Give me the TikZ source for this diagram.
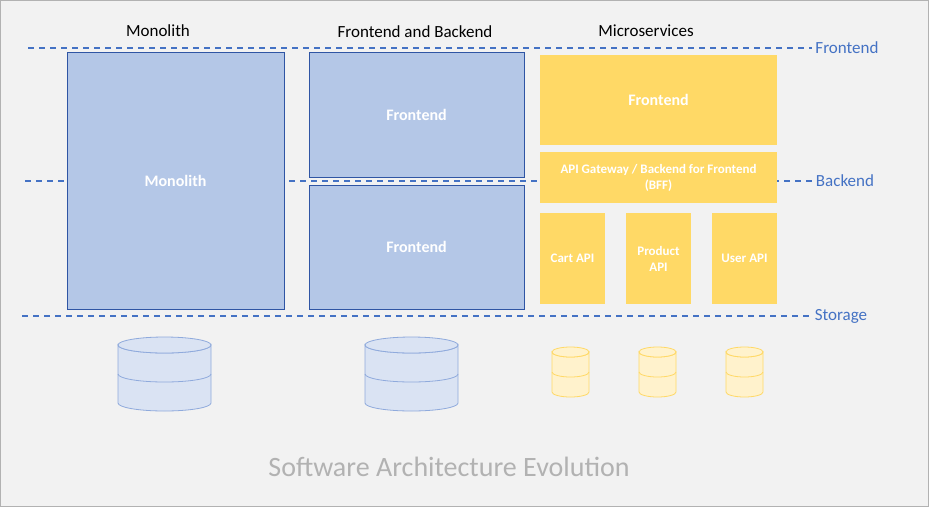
\documentclass[tikz,border=0pt]{standalone}
\usepackage{fontspec}
\setmainfont{Carlito}
\usetikzlibrary{positioning}
\definecolor{pagegray}{HTML}{F2F2F2}
\definecolor{layerblue}{HTML}{4472C4}
\definecolor{boxblue}{HTML}{B4C7E7}
\definecolor{edgeblue}{HTML}{2F55A4}
\definecolor{boxgold}{HTML}{FFD966}
\definecolor{dbblue}{HTML}{DAE3F3}
\definecolor{dbedge}{HTML}{8FAADC}
\definecolor{dbgold}{HTML}{FFF2CC}
\definecolor{dbgoldedge}{HTML}{FFD966}
\tikzset{
  layer/.style={layerblue, line width=1.5pt, dash pattern=on 6pt off 5pt},
  layername/.style={text=layerblue, font=\fontsize{17}{20}\selectfont},
  heading/.style={font=\fontsize{17}{20}\selectfont},
  bluebox/.style={draw=edgeblue, fill=boxblue, text=white, font=\fontsize{16}{19}\selectfont\bfseries},
  goldbox/.style={fill=boxgold, text=white, align=center},
}
% storage drum: left x, top y, width, height, half height of the rim, style
\newcommand{\drum}[6]{%
  \draw[#6] (#1,#2) -- (#1,#2+#4) arc[start angle=180,end angle=360,x radius=#3/2,y radius=-#5] -- (#1+#3,#2)
    arc[start angle=0,end angle=-180,x radius=#3/2,y radius=-#5] -- cycle;
  \draw[#6] (#1,#2) arc[start angle=180,end angle=360,x radius=#3/2,y radius=#5]
    arc[start angle=0,end angle=180,x radius=#3/2,y radius=#5];
  \draw[#6, fill=none] (#1,#2+#4/2) arc[start angle=180,end angle=360,x radius=#3/2,y radius=-#5];
}
\begin{document}
\begin{tikzpicture}[x=1pt, y=-1pt]
  % page
  \fill[pagegray] (0,0) rectangle (929,507);
  \draw[gray!60, line width=0.8pt] (0.5,0.5) rectangle (928.5,506.5);
  \useasboundingbox (0,0) rectangle (929,507);

  % headings
  \node[heading] (hmono) at (158,31) {Monolith};
  \node[heading] (hfb) at (415,32) {Frontend and Backend};
  \node[heading] (hms) at (646,31) {Microservices};

  % layers
  \node[layername] (lfe) at (847,48) {Frontend};
  \node[layername] (lbe) at (845,181) {Backend};
  \node[layername] (lst) at (841,316) {Storage};
  \coordinate (fe0) at (28,48);
  \coordinate (be0) at (25,181);
  \coordinate (st0) at (22,316);
  \draw[layer] (fe0) -- (lfe.west);
  \draw[layer] (be0) -- (lbe.west);
  \draw[layer] (st0) -- (lst.west |- st0);

  % monolith
  \node[bluebox, minimum width=217pt, minimum height=257pt] (mono) at (175.5,180.5) {Monolith};
  % frontend and backend
  \node[bluebox, minimum width=215pt, minimum height=125pt] (fb1) at (416.5,114.5) {Frontend};
  \node[bluebox, minimum width=215pt, minimum height=124pt] (fb2) at (416.5,247) {Frontend};
  % microservices
  \node[goldbox, minimum width=237pt, minimum height=90pt, font=\fontsize{16}{19}\selectfont\bfseries] (msfe) at (658.5,100) {Frontend};
  \node[goldbox, minimum width=237pt, minimum height=51pt, font=\fontsize{13}{16}\selectfont\bfseries] (gw) at (658.5,177.5) {API Gateway / Backend for Frontend\\(BFF)};
  \node[goldbox, minimum width=65pt, minimum height=91pt, font=\fontsize{13}{16}\selectfont\bfseries] (cart) at (572.5,258.5) {Cart API};
  \node[goldbox, minimum width=65pt, minimum height=91pt, font=\fontsize{13}{16}\selectfont\bfseries] (prod) at (658.5,258.5) {Product\\API};
  \node[goldbox, minimum width=65pt, minimum height=91pt, font=\fontsize{13}{16}\selectfont\bfseries] (user) at (744.5,258.5) {User API};

  % storage
  \drum{118}{345}{93}{58}{8}{draw=dbedge, fill=dbblue, line width=0.8pt}
  \drum{365}{345}{93}{58}{8}{draw=dbedge, fill=dbblue, line width=0.8pt}
  \foreach \x in {552,639,726}
  {
    \drum{\x}{352}{37}{40}{5}{draw=dbgoldedge, fill=dbgold, line width=0.8pt}
  }

  \node[text=gray!60, font=\fontsize{28}{32}\selectfont] (title) at (449,467) {Software Architecture Evolution};
\end{tikzpicture}
\end{document}
